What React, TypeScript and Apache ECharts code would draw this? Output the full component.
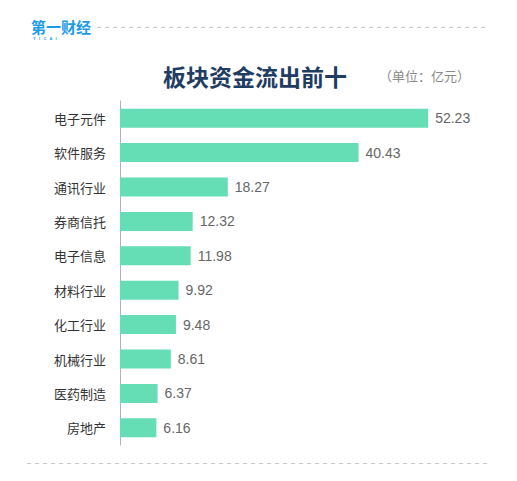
import React, { useEffect, useRef } from "react";
import * as echarts from "echarts";

const categories = ["电子元件", "软件服务", "通讯行业", "券商信托", "电子信息", "材料行业", "化工行业", "机械行业", "医药制造", "房地产"];
const values = [52.23, 40.43, 18.27, 12.32, 11.98, 9.92, 9.48, 8.61, 6.37, 6.16];
const titleText = "板块资金流出前十";
const unitText = "（单位：亿元）";

export default function App() {
  const ref = useRef<HTMLDivElement>(null);
  useEffect(() => {
    const chart = echarts.init(ref.current!, null, { renderer: "svg" });
    const font = "'Microsoft YaHei', 'Noto Sans CJK SC', sans-serif";
    chart.setOption({
      animation: false,
      backgroundColor: "#ffffff",
      textStyle: { fontFamily: font },
      grid: { left: 120, top: 101, width: 354, height: 344, containLabel: false },
      xAxis: {
        type: "value",
        min: 0,
        max: 60,
        show: false,
      },
      yAxis: {
        type: "category",
        data: categories,
        inverse: true,
        axisLine: { show: true, lineStyle: { color: "#b3b3b3", width: 1 } },
        axisTick: { show: false },
        axisLabel: { color: "#333333", fontSize: 13, margin: 14, fontFamily: font },
      },
      series: [
        {
          type: "bar",
          data: values,
          barWidth: 19,
          itemStyle: { color: "#66deb5" },
          label: {
            show: true,
            position: "right",
            distance: 7,
            color: "#666666",
            fontSize: 14,
            fontFamily: "Arial, 'Liberation Sans', sans-serif",
          },
        },
      ],
      graphic: [
        {
          type: "text",
          x: 31,
          y: 26,
          style: {
            text: "第一财经",
            fill: "#1e9be6",
            font: "bold 15px 'Noto Sans CJK SC', sans-serif",
            verticalAlign: "middle",
          },
        },
        {
          type: "text",
          x: 33,
          y: 38,
          style: {
            text: "Y   I   C   A   I",
            fill: "#1e9be6",
            font: "bold 4px sans-serif",
            verticalAlign: "middle",
          },
        },
        {
          type: "line",
          shape: { x1: 97, y1: 27.5, x2: 487, y2: 27.5 },
          style: { stroke: "#c8c8c8", lineWidth: 1, lineDash: [4, 4] },
        },
        {
          type: "line",
          shape: { x1: 27, y1: 463.5, x2: 487, y2: 463.5 },
          style: { stroke: "#c8c8c8", lineWidth: 1, lineDash: [4, 4] },
        },
        {
          type: "text",
          x: 163,
          y: 76,
          style: {
            text: titleText,
            fill: "#1f3d63",
            font: "bold 23px 'Noto Sans CJK SC', sans-serif",
            verticalAlign: "middle",
          },
        },
        {
          type: "text",
          x: 379,
          y: 75,
          style: {
            text: unitText,
            fill: "#8a8a8a",
            font: "13px 'Noto Sans CJK SC', sans-serif",
            verticalAlign: "middle",
          },
        },
      ],
    });
    return () => chart.dispose();
  }, []);
  return <div ref={ref} style={{ position: "fixed", left: 0, top: 0, width: 517, height: 481 }} />;
}
